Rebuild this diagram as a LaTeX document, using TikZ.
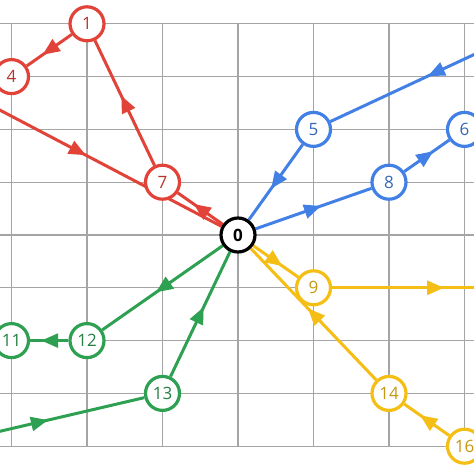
\documentclass[tikz,border=0pt]{standalone}
\usepackage{fontspec}
\setmainfont{Open Sans}
\usetikzlibrary{arrows.meta,decorations.markings,backgrounds}

\definecolor{gred}{RGB}{226,67,56}
\definecolor{gblue}{RGB}{66,128,230}
\definecolor{ggreen}{RGB}{46,160,82}
\definecolor{gyellow}{RGB}{245,190,20}
\definecolor{gridgray}{RGB}{165,165,165}

\begin{document}
\begin{tikzpicture}[x=75.5pt,y=52.8pt,
  vert/.style={circle,draw=#1,fill=white,line width=3.2pt,minimum size=34pt,
    inner sep=0pt,text=#1!80!black,font=\fontsize{17}{17}\selectfont},
  link/.style={draw=#1,line width=3pt,postaction={decorate},
    decoration={markings,mark=at position 0.5 with
      {\pgftransformxshift{8pt}\arrow{Triangle[length=17pt,width=14pt]}}}},
  gridline/.style={draw=gridgray,line width=1.3pt}]
\useasboundingbox (-238pt,-239pt) rectangle (236pt,235pt);
\clip (-238pt,-239pt) rectangle (236pt,235pt);

% vertices
\node[vert=black,font=\fontsize{17}{17}\selectfont\bfseries,text=black] (n0) at (0,0) {0};
\node[vert=gred] (n1) at (-2,4) {1};
\node[vert=gred] (n4) at (-3,3) {4};
\node[vert=gred] (n7) at (-1,1) {7};
\node[vert=gblue] (n5) at (1,2) {5};
\node[vert=gblue] (n6) at (3,2) {6};
\node[vert=gblue] (n8) at (2,1) {8};
\node[vert=gyellow] (n9) at (1,-1) {9};
\node[vert=gyellow] (n14) at (2,-3) {14};
\node[vert=gyellow] (n16) at (3,-4) {16};
\node[vert=ggreen] (n11) at (-3,-2) {11};
\node[vert=ggreen] (n12) at (-2,-2) {12};
\node[vert=ggreen] (n13) at (-1,-3) {13};

% ends outside the frame
\coordinate (redout)    at (-4,3);
\coordinate (blueout)   at (4,4);
\coordinate (yellowout) at (4,-1);
\coordinate (yellowdn)  at (4,-2);
\coordinate (greenout)  at (-4,-4);

\begin{scope}[on background layer]
\clip (-238pt,-239pt) rectangle (236pt,235pt);
\foreach \x in {-3,...,3}
    \draw[gridline] (\x,-4) -- (\x,4);
\foreach \y in {-4,...,4}
    \draw[gridline] (-3.3,\y) -- (3.3,\y);

\draw[link=gred] (redout) -- (n0);
\draw[link=gred] (n0) -- (n7);
\draw[link=gred] (n7) -- (n1);
\draw[link=gred] (n1) -- (n4);

\draw[link=gblue] (blueout) -- (n5);
\draw[link=gblue] (n5) -- (n0);
\draw[link=gblue] (n0) -- (n8);
\draw[link=gblue] (n8) -- (n6);

\draw[link=gyellow] (n0) -- (n9);
\draw[link=gyellow] (n9) -- (yellowout);
\draw[link=gyellow] (n14) -- (n0);
\draw[link=gyellow] (n16) -- (n14);
\draw[link=gyellow] (n16) -- (yellowdn);

\draw[link=ggreen] (n0) -- (n12);
\draw[link=ggreen] (n12) -- (n11);
\draw[link=ggreen] (n13) -- (n0);
\draw[link=ggreen] (greenout) -- (n13);
\end{scope}
\end{tikzpicture}
\end{document}
